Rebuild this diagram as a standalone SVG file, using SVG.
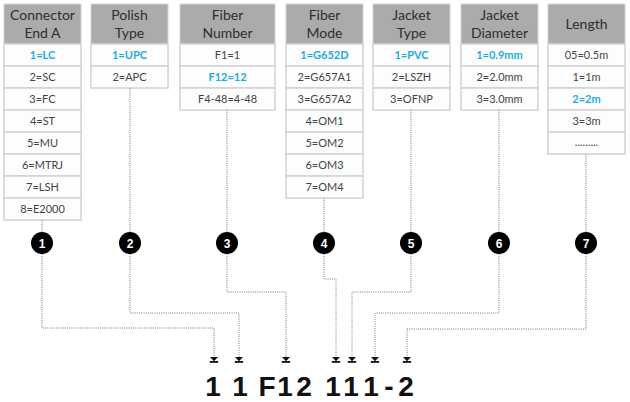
<svg xmlns="http://www.w3.org/2000/svg" width="630" height="402" viewBox="0 0 630 402">
<defs>
<style>
.hd{fill:#ababab;stroke:#d2d2d2;stroke-width:1}
.rw{fill:#fdfdfd;stroke:#d2d2d2;stroke-width:1.5}
.ht{font-family:Lato,"Open Sans","DejaVu Sans",sans-serif;font-size:14px;fill:#2e2e2e;text-anchor:middle}
.t{font-family:Lato,"Open Sans","DejaVu Sans",sans-serif;font-size:11px;fill:#444;text-anchor:middle}
.hl{fill:#1aace6;font-weight:bold}
.cn{fill:none;stroke:#777;stroke-width:1;stroke-dasharray:1 1.2}
.num{font-family:"Liberation Sans",Arial,sans-serif;font-size:12px;font-weight:bold;fill:#fff;text-anchor:middle}
.code{font-family:"Liberation Sans",Arial,sans-serif;font-size:28px;font-weight:bold;fill:#111;text-anchor:middle}
</style>
<marker id="ah" markerUnits="userSpaceOnUse" markerWidth="10" markerHeight="8" viewBox="-5 -1 10 8" refX="0" refY="0" orient="0">
<polygon points="-4,0 4,0 0,4.2" fill="#111"/>
<rect x="-4.2" y="4" width="8.4" height="1.8" fill="#111"/>
</marker>
</defs>
<rect width="630" height="402" fill="#fff"/>

<g id="col1">
<rect class="hd" x="4" y="4" width="77" height="40"/>
<text class="ht" x="42.5" y="20">Connector</text>
<text class="ht" x="42.5" y="38">End A</text>
<rect class="rw" x="4" y="44" width="77" height="22"/>
<rect class="rw" x="4" y="66" width="77" height="22"/>
<rect class="rw" x="4" y="88" width="77" height="22"/>
<rect class="rw" x="4" y="110" width="77" height="22"/>
<rect class="rw" x="4" y="132" width="77" height="22"/>
<rect class="rw" x="4" y="154" width="77" height="22"/>
<rect class="rw" x="4" y="176" width="77" height="22"/>
<rect class="rw" x="4" y="198" width="77" height="22"/>
<text class="t hl" x="42.5" y="59">1=LC</text>
<text class="t" x="42.5" y="81">2=SC</text>
<text class="t" x="42.5" y="103">3=FC</text>
<text class="t" x="42.5" y="125">4=ST</text>
<text class="t" x="42.5" y="147">5=MU</text>
<text class="t" x="42.5" y="169">6=MTRJ</text>
<text class="t" x="42.5" y="191">7=LSH</text>
<text class="t" x="42.5" y="213">8=E2000</text>
</g>

<g id="col2">
<rect class="hd" x="91" y="4" width="77" height="40"/>
<text class="ht" x="129.5" y="20">Polish</text>
<text class="ht" x="129.5" y="38">Type</text>
<rect class="rw" x="91" y="44" width="77" height="22"/>
<rect class="rw" x="91" y="66" width="77" height="22"/>
<text class="t hl" x="129.5" y="59">1=UPC</text>
<text class="t" x="129.5" y="81">2=APC</text>
</g>

<g id="col3">
<rect class="hd" x="180" y="4" width="95" height="40"/>
<text class="ht" x="227.5" y="20">Fiber</text>
<text class="ht" x="227.5" y="38">Number</text>
<rect class="rw" x="180" y="44" width="95" height="22"/>
<rect class="rw" x="180" y="66" width="95" height="22"/>
<rect class="rw" x="180" y="88" width="95" height="22"/>
<text class="t" x="227.5" y="59">F1=1</text>
<text class="t hl" x="227.5" y="81">F12=12</text>
<text class="t" x="227.5" y="103">F4-48=4-48</text>
</g>

<g id="col4">
<rect class="hd" x="286" y="4" width="77" height="40"/>
<text class="ht" x="324.5" y="20">Fiber</text>
<text class="ht" x="324.5" y="38">Mode</text>
<rect class="rw" x="286" y="44" width="77" height="22"/>
<rect class="rw" x="286" y="66" width="77" height="22"/>
<rect class="rw" x="286" y="88" width="77" height="22"/>
<rect class="rw" x="286" y="110" width="77" height="22"/>
<rect class="rw" x="286" y="132" width="77" height="22"/>
<rect class="rw" x="286" y="154" width="77" height="22"/>
<rect class="rw" x="286" y="176" width="77" height="22"/>
<text class="t hl" x="324.5" y="59">1=G652D</text>
<text class="t" x="324.5" y="81">2=G657A1</text>
<text class="t" x="324.5" y="103">3=G657A2</text>
<text class="t" x="324.5" y="125">4=OM1</text>
<text class="t" x="324.5" y="147">5=OM2</text>
<text class="t" x="324.5" y="169">6=OM3</text>
<text class="t" x="324.5" y="191">7=OM4</text>
</g>

<g id="col5">
<rect class="hd" x="373" y="4" width="77" height="40"/>
<text class="ht" x="411.5" y="20">Jacket</text>
<text class="ht" x="411.5" y="38">Type</text>
<rect class="rw" x="373" y="44" width="77" height="22"/>
<rect class="rw" x="373" y="66" width="77" height="22"/>
<rect class="rw" x="373" y="88" width="77" height="22"/>
<text class="t hl" x="411.5" y="59">1=PVC</text>
<text class="t" x="411.5" y="81">2=LSZH</text>
<text class="t" x="411.5" y="103">3=OFNP</text>
</g>

<g id="col6">
<rect class="hd" x="461" y="4" width="77" height="40"/>
<text class="ht" x="499.5" y="20">Jacket</text>
<text class="ht" x="499.5" y="38">Diameter</text>
<rect class="rw" x="461" y="44" width="77" height="22"/>
<rect class="rw" x="461" y="66" width="77" height="22"/>
<rect class="rw" x="461" y="88" width="77" height="22"/>
<text class="t hl" x="499.5" y="59">1=0.9mm</text>
<text class="t" x="499.5" y="81">2=2.0mm</text>
<text class="t" x="499.5" y="103">3=3.0mm</text>
</g>

<g id="col7">
<rect class="hd" x="548" y="4" width="77" height="40"/>
<text class="ht" x="586.5" y="29">Length</text>
<rect class="rw" x="548" y="44" width="77" height="22"/>
<rect class="rw" x="548" y="66" width="77" height="22"/>
<rect class="rw" x="548" y="88" width="77" height="22"/>
<rect class="rw" x="548" y="110" width="77" height="22"/>
<rect class="rw" x="548" y="132" width="77" height="22"/>
<text class="t" x="586.5" y="59">05=0.5m</text>
<text class="t" x="586.5" y="81">1=1m</text>
<text class="t hl" x="586.5" y="103">2=2m</text>
<text class="t" x="586.5" y="125">3=3m</text>
<text class="t" x="586.5" y="146">.........</text>
</g>

<g id="connectors">
<path class="cn" d="M42 220V232"/>
<path class="cn" d="M130 88V232"/>
<path class="cn" d="M227 110V232"/>
<path class="cn" d="M324 198V232"/>
<path class="cn" d="M411 110V232"/>
<path class="cn" d="M499 110V232"/>
<path class="cn" d="M586 154V232"/>
<path class="cn" d="M42 254V328H214V357" marker-end="url(#ah)"/>
<path class="cn" d="M130 254V313H239V357" marker-end="url(#ah)"/>
<path class="cn" d="M227 254V292H286V357" marker-end="url(#ah)"/>
<path class="cn" d="M324 254V279H336V357" marker-end="url(#ah)"/>
<path class="cn" d="M411 254V292H352V357" marker-end="url(#ah)"/>
<path class="cn" d="M499 254V313H375V357" marker-end="url(#ah)"/>
<path class="cn" d="M586 254V329H407V357" marker-end="url(#ah)"/>
</g>

<g id="n1"><circle cx="42" cy="243" r="11" fill="#000"/><text class="num" x="42" y="247.5">1</text></g>
<g id="n2"><circle cx="130" cy="243" r="11" fill="#000"/><text class="num" x="130" y="247.5">2</text></g>
<g id="n3"><circle cx="227" cy="243" r="11" fill="#000"/><text class="num" x="227" y="247.5">3</text></g>
<g id="n4"><circle cx="324" cy="243" r="11" fill="#000"/><text class="num" x="324" y="247.5">4</text></g>
<g id="n5"><circle cx="411" cy="243" r="11" fill="#000"/><text class="num" x="411" y="247.5">5</text></g>
<g id="n6"><circle cx="499" cy="243" r="11" fill="#000"/><text class="num" x="499" y="247.5">6</text></g>
<g id="n7"><circle cx="586" cy="243" r="11" fill="#000"/><text class="num" x="586" y="247.5">7</text></g>

<g id="code">
<text class="code" y="396"><tspan x="213">1</tspan><tspan x="240">1</tspan><tspan x="267">F</tspan><tspan x="285">1</tspan><tspan x="304">2</tspan><tspan x="333">1</tspan><tspan x="351">1</tspan><tspan x="371">1</tspan><tspan x="389">-</tspan><tspan x="406">2</tspan></text>
</g>
</svg>
